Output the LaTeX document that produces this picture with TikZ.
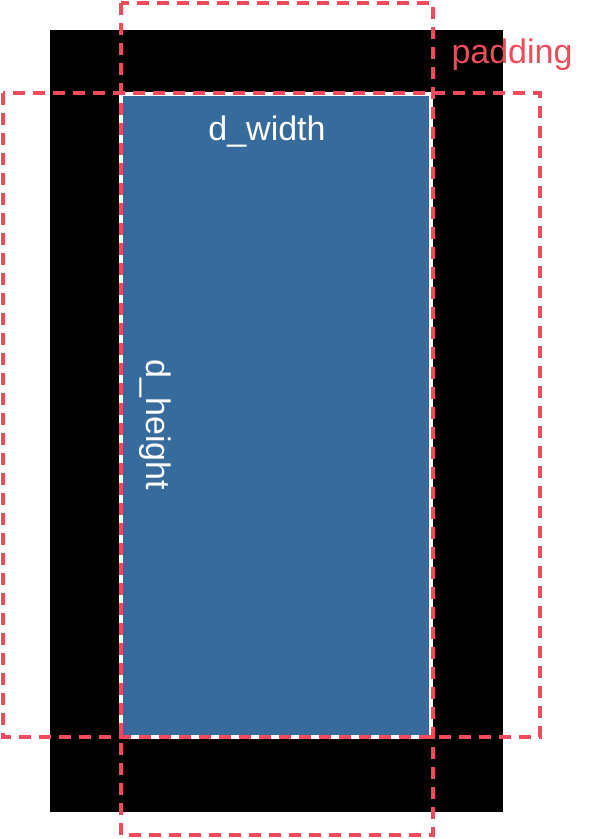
\documentclass[tikz,border=0pt]{standalone}
\usepackage{fontspec}
\setmainfont{Liberation Sans}
\definecolor{PadRed}{HTML}{EE4C5C}
\definecolor{BoxBlue}{HTML}{376B9C}
\tikzset{
    padline/.style={draw=PadRed, line width=4pt, dash pattern=on 12pt off 8pt},
    label/.style={text=white, font=\fontsize{34}{40}\selectfont}
}
\begin{document}
\begin{tikzpicture}[x=1pt, y=-1pt]
    \useasboundingbox (0,0) rectangle (600,839);

    % Outer black area
    \fill[black] (50,30) rectangle (503,812);

    % Content box
    \draw[fill=BoxBlue, draw=white, line width=4pt] (121,94) rectangle (431,737);
    \node[label] (width) at (267,132) {d\_width};
    \node[label, rotate=-90] (height) at (155,425) {d\_height};

    % Padding outlines
    \draw[padline] (121,3) rectangle (433,835);
    \draw[padline] (3,93) rectangle (540,737);
    \node[text=PadRed, font=\fontsize{34}{40}\selectfont, anchor=west] (pad) at (448,55) {padding};
\end{tikzpicture}
\end{document}
